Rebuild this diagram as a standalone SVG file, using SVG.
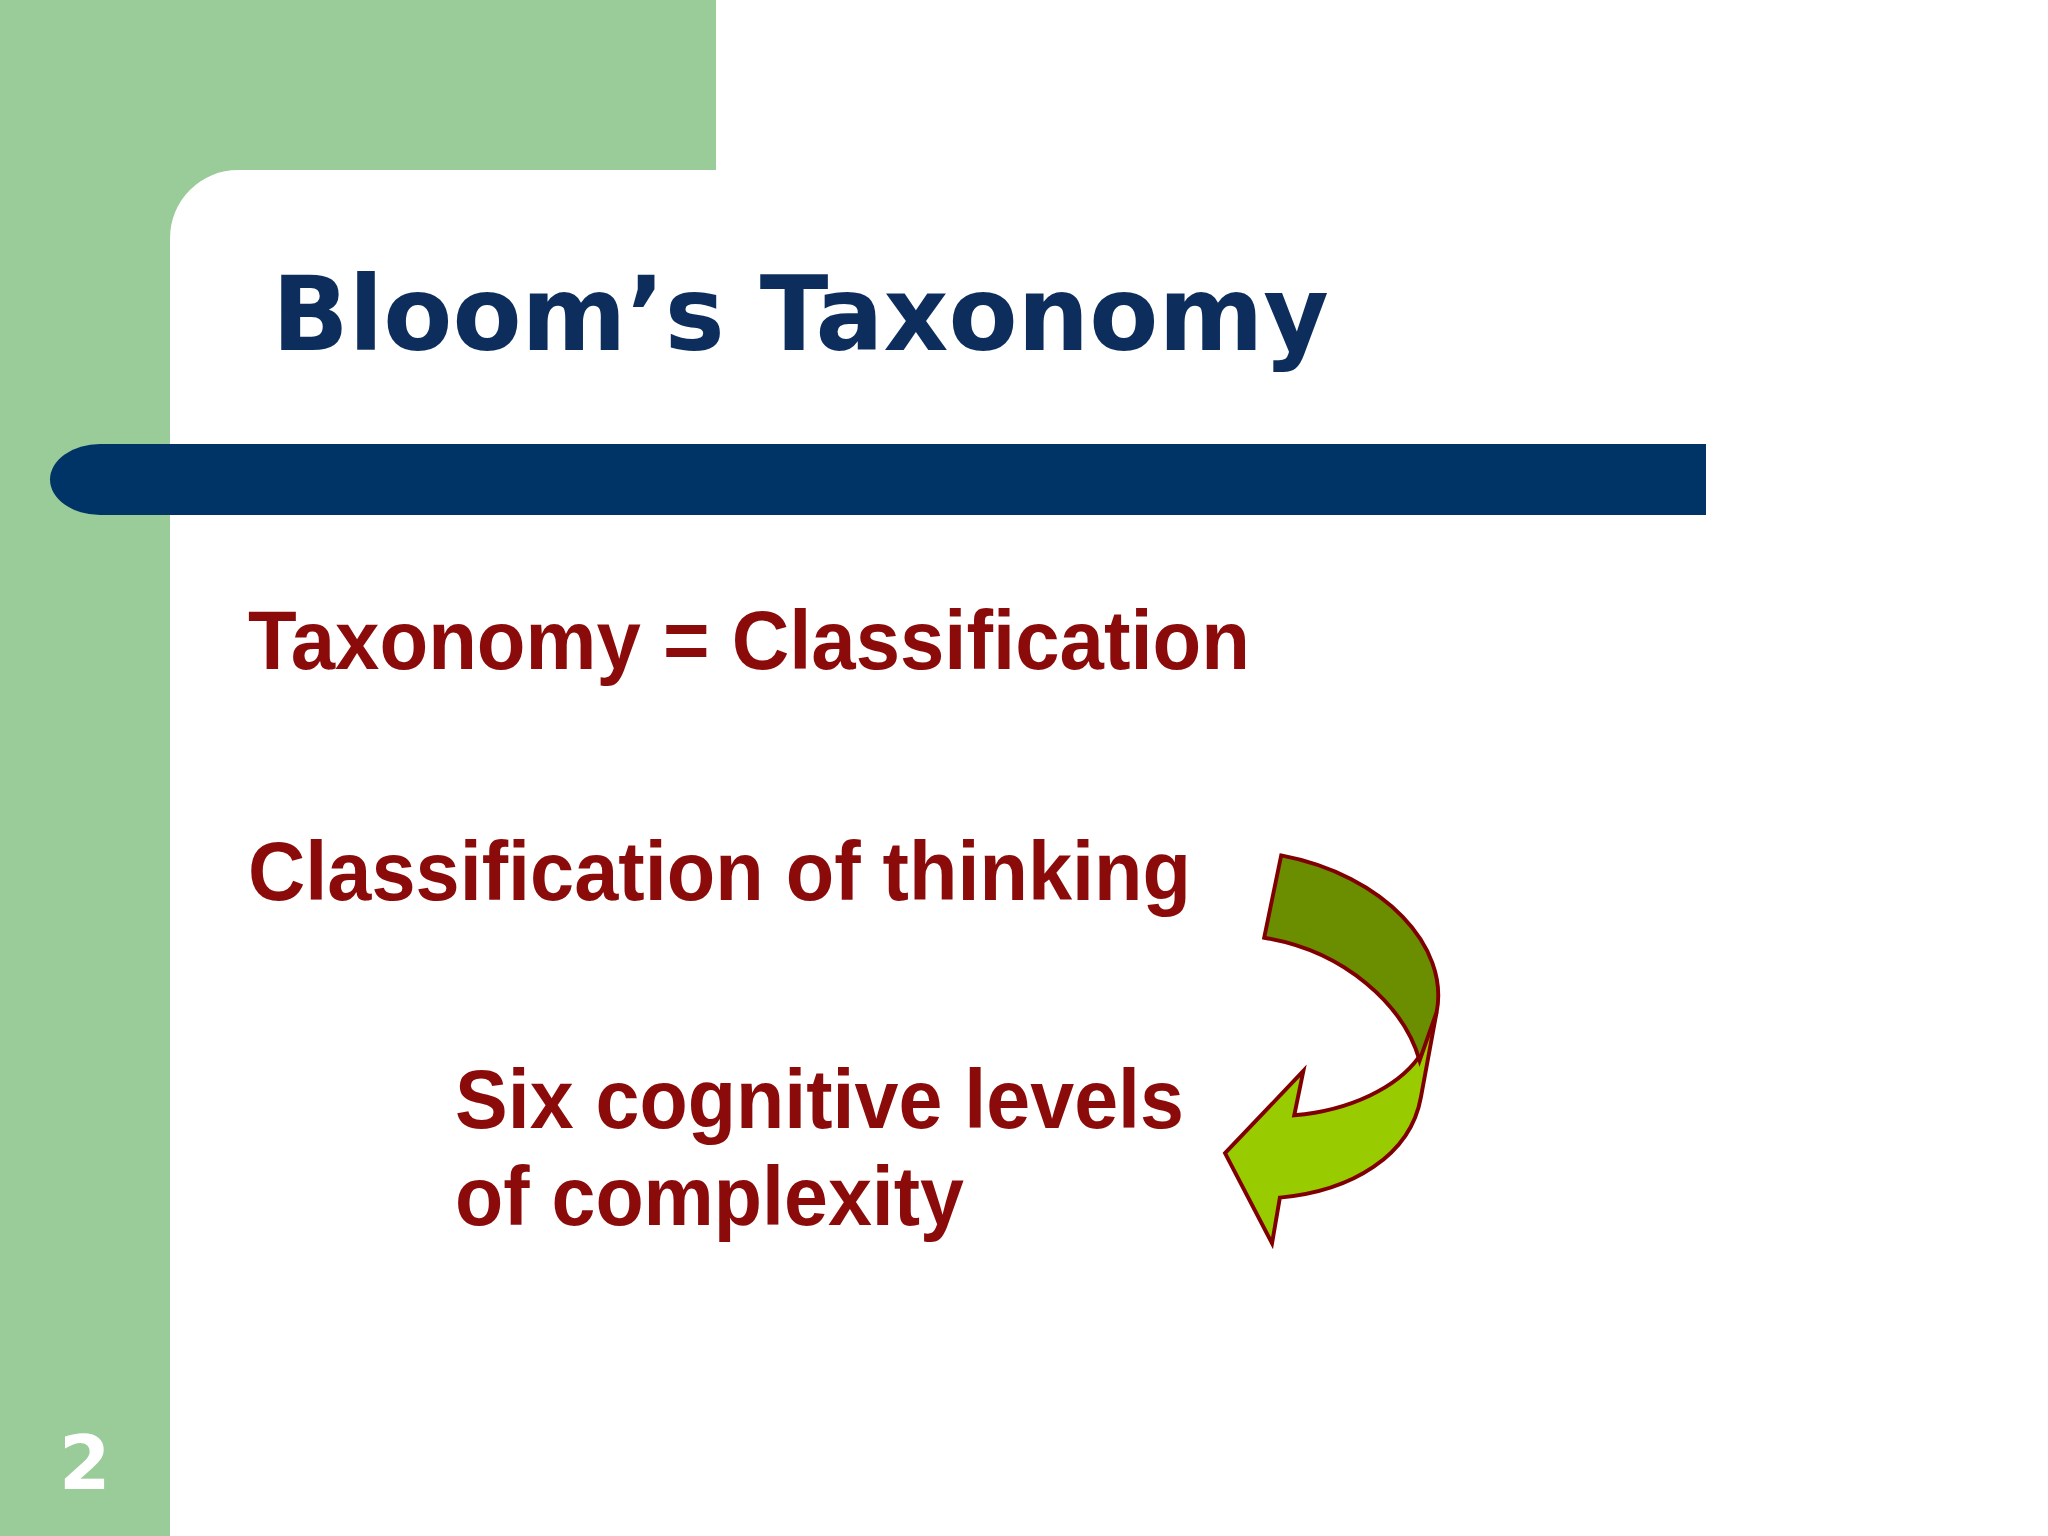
<svg xmlns="http://www.w3.org/2000/svg" width="2048" height="1536" viewBox="0 0 2048 1536">
<style>
.t{font-family:"Liberation Sans",Arial,sans-serif;font-weight:bold;fill:#8B0A0A;font-size:84px}
</style>
<rect width="2048" height="1536" fill="#fff"/>
<g id="background">
<rect x="0" y="0" width="170" height="1536" fill="#99CC99"/>
<rect x="0" y="0" width="716" height="170" fill="#99CC99"/>
<path d="M170,170 L238,170 A68,68 0 0 0 170,238 Z" fill="#99CC99"/>
<path d="M100,444 L1706,444 L1706,515 L100,515 A50,35.5 0 0 1 100,444 Z" fill="#003366"/>
</g>
<g id="title"><text x="272" y="350" font-family="'DejaVu Sans','Liberation Sans',sans-serif" font-weight="900" font-size="104" fill="#0D2E5C" textLength="1057" lengthAdjust="spacingAndGlyphs">Bloom’s Taxonomy</text></g>
<g id="line1"><text class="t" x="248" y="669" textLength="1002" lengthAdjust="spacingAndGlyphs">Taxonomy = Classification</text></g>
<g id="line2"><text class="t" x="248" y="900" textLength="943" lengthAdjust="spacingAndGlyphs">Classification of thinking</text></g>
<g id="line3"><text class="t" x="455" y="1128" textLength="729" lengthAdjust="spacingAndGlyphs">Six cognitive levels</text>
<text class="t" x="455" y="1225" textLength="509" lengthAdjust="spacingAndGlyphs">of complexity</text></g>
<g id="arrow" transform="scale(1.306)" stroke="#800000" stroke-width="3" stroke-linejoin="miter">
<path d="M1100,775 L1088,840 C1080,885 1035,912 980,917 L974,952 L938,883 L998,820 L991,854 C1035,850 1070,832 1086,810 Z" fill="#99CC00"/>
<path d="M981,655 C1060,670 1110,725 1100,775 L1087,812 C1075,770 1030,728 968,718 Z" fill="#6B8E00"/>
</g>
<g id="pagenum"><text x="59" y="1489" font-family="'DejaVu Sans',sans-serif" font-weight="900" font-size="74" fill="#fff">2</text></g>
</svg>
